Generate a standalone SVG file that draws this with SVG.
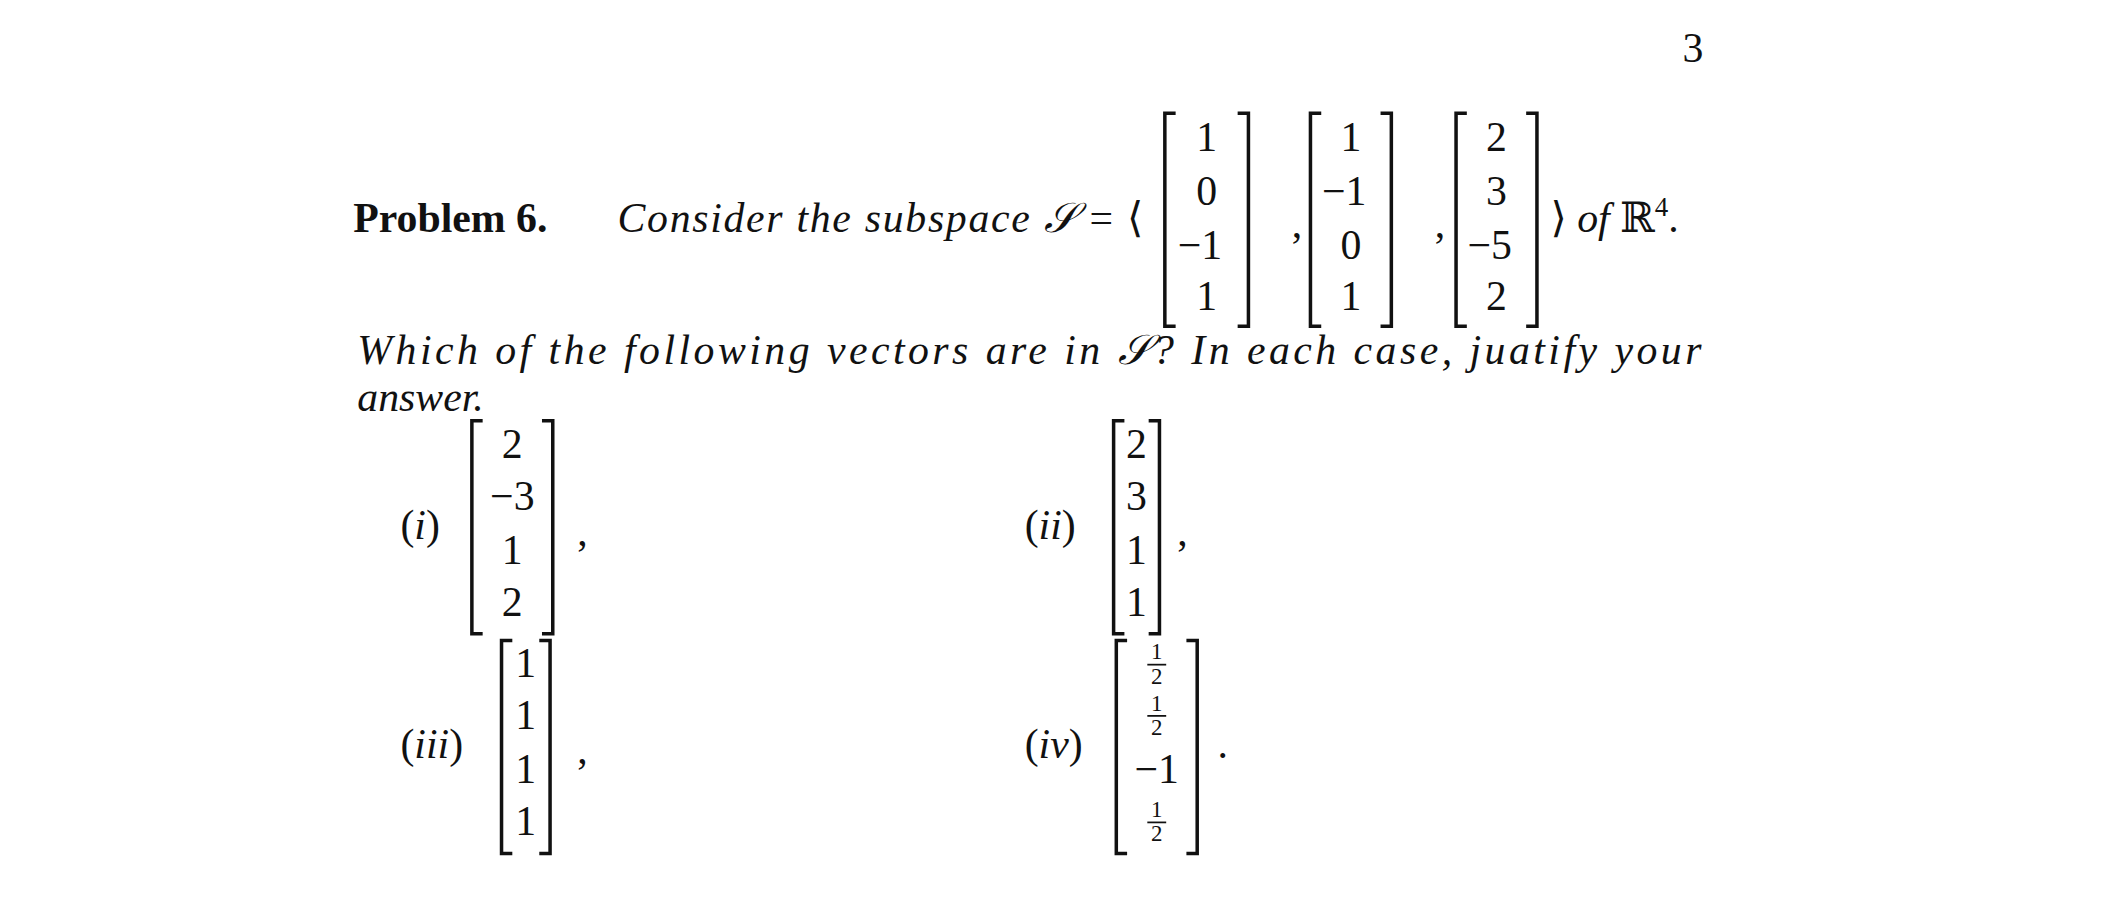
<svg xmlns="http://www.w3.org/2000/svg" width="2114" height="905" viewBox="0 0 2114 905">
<style>
text{font-family:"Liberation Serif","DejaVu Serif",serif;font-size:31px;fill:#111}
.i{font-style:italic}
.b{font-weight:bold}
.m{text-anchor:middle}
.s{font-size:17px}
.br{fill:none;stroke:#111;stroke-width:2.6}
</style>
<rect width="2114" height="905" fill="#fff"/>
<g transform="scale(1.3482)">
<text x="1248" y="46" font-size="25">3</text>
<g id="statement">
<text x="262" y="172" class="b" font-size="33">Problem 6.</text>
<text x="458" y="172" class="i" textLength="390" lengthAdjust="spacing">Consider the subspace 𝒮 <tspan font-style="normal">= ⟨</tspan></text>
<text x="962" y="176" class="m">,</text>
<text x="1068" y="176" class="m">,</text>
<text x="1150" y="172"><tspan>⟩ </tspan><tspan class="i">of</tspan> ℝ<tspan dy="-12" font-size="20">4</tspan><tspan dy="12">.</tspan></text>
</g>
<g id="m1">
<path class="br" d="M872,84h-8v158h8M918,84h8v158h-8"/>
<text x="895" y="112" class="m">1</text><text x="895" y="152" class="m">0</text><text x="890" y="192" class="m">−1</text><text x="895" y="230" class="m">1</text>
</g>
<g id="m2">
<path class="br" d="M980,84h-8v158h8M1024,84h8v158h-8"/>
<text x="1002" y="112" class="m">1</text><text x="997" y="152" class="m">−1</text><text x="1002" y="192" class="m">0</text><text x="1002" y="230" class="m">1</text>
</g>
<g id="m3">
<path class="br" d="M1088,84h-8v158h8M1132,84h8v158h-8"/>
<text x="1110" y="112" class="m">2</text><text x="1110" y="152" class="m">3</text><text x="1105" y="192" class="m">−5</text><text x="1110" y="230" class="m">2</text>
</g>
<g id="question">
<text x="265" y="270" class="i" textLength="997" lengthAdjust="spacing">Which of the following vectors are in 𝒮? In each case, juatify your</text>
<text x="265" y="305" class="i">answer.</text>
</g>
<g id="v1">
<text x="297" y="400"><tspan>(</tspan><tspan class="i">i</tspan><tspan>)</tspan></text>
<path class="br" d="M358,312h-8v158h8M402,312h8v158h-8"/>
<text x="380" y="340" class="m">2</text><text x="380" y="378" class="m">−3</text><text x="380" y="418" class="m">1</text><text x="380" y="457" class="m">2</text>
<text x="432" y="404" class="m">,</text>
</g>
<g id="v2">
<text x="760" y="400"><tspan>(</tspan><tspan class="i">ii</tspan><tspan>)</tspan></text>
<path class="br" d="M834,312h-8v158h8M852,312h8v158h-8"/>
<text x="843" y="340" class="m">2</text><text x="843" y="378" class="m">3</text><text x="843" y="418" class="m">1</text><text x="843" y="457" class="m">1</text>
<text x="877" y="404" class="m">,</text>
</g>
<g id="v3">
<text x="297" y="562"><tspan>(</tspan><tspan class="i">iii</tspan><tspan>)</tspan></text>
<path class="br" d="M380,475h-8v158h8M400,475h8v158h-8"/>
<text x="390" y="502" class="m">1</text><text x="390" y="541" class="m">1</text><text x="390" y="581" class="m">1</text><text x="390" y="619" class="m">1</text>
<text x="432" y="566" class="m">,</text>
</g>
<g id="v4">
<text x="760" y="562"><tspan>(</tspan><tspan class="i">iv</tspan><tspan>)</tspan></text>
<path class="br" d="M836,475h-8v158h8M880,475h8v158h-8"/>
<text x="858" y="489" class="m s">1</text><line x1="851" y1="493" x2="865" y2="493" stroke="#111" stroke-width="1.3"/><text x="858" y="507" class="m s">2</text>
<text x="858" y="527" class="m s">1</text><line x1="851" y1="531" x2="865" y2="531" stroke="#111" stroke-width="1.3"/><text x="858" y="545" class="m s">2</text>
<text x="858" y="581" class="m">−1</text>
<text x="858" y="606" class="m s">1</text><line x1="851" y1="610" x2="865" y2="610" stroke="#111" stroke-width="1.3"/><text x="858" y="624" class="m s">2</text>
<text x="907" y="562" class="m">.</text>
</g>
</g>
</svg>
